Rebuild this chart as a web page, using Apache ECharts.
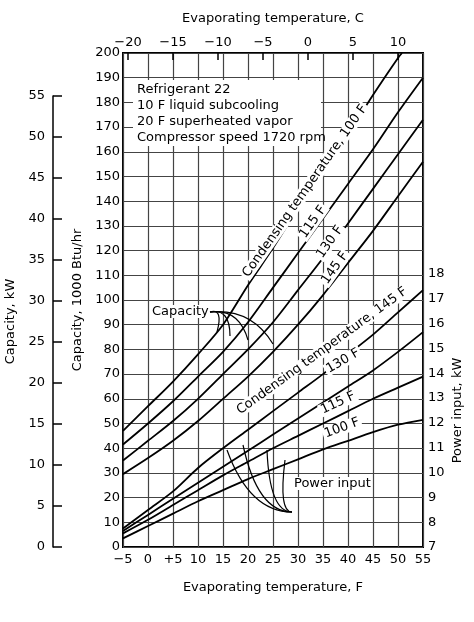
<!DOCTYPE html>
<html><head><meta charset="utf-8">
<script src="https://cdn.jsdelivr.net/npm/echarts@6/dist/echarts.min.js"></script>
<style>html,body{margin:0;padding:0;background:#fff}#c{width:474px;height:622px}</style>
</head><body><div id="c"></div>
<script>
const evapF = [-5,0,5,10,15,20,25,30,35,40,45,50,55];
const cap100 = [47,57,67,78,90,106,121,137,152,167,183,198,null];
const cap100End = [50.8,200];
const cap115 = [41.5,50,59,69,79,91,105,119,133,147,161,176,190];
const cap130 = [35,43,51,60,70,80,91,104,117,131,145,159,173];
const cap145 = [29.5,36,43,51,60,69,79,90,102,115,128,142,156];
// power input expressed on the capacity scale (kW = 7 + value/10)
const pow100 = [3.5,8.5,13.5,18.5,23,27.5,31.5,35.5,39.5,43,46.5,49.5,51.5];
const pow115 = [5.5,11,17,23,29,34.5,40,45,50,55,60,64.5,69];
const pow130 = [6.5,13,19.5,26,32.5,39,45.5,52,58.5,65,71.5,79,87];
const pow145 = [7.5,15,22.5,32,40,47.5,55,62.5,70,78,86,95,104];
const cTicks = [-20,-15,-10,-5,0,5,10];

function pts(v){const r=[];v.forEach((y,i)=>{if(y!=null)r.push([evapF[i],y]);});return r;}
const FONT='DejaVu Sans';
const ser=(d)=>({type:'line',data:d,smooth:0.3,symbol:'none',xAxisIndex:0,yAxisIndex:0,
  lineStyle:{color:'#000',width:1.8},silent:true});
const c100=pts(cap100);c100.push(cap100End);

const chart=echarts.init(document.getElementById('c'));
const lbl={color:'#000',fontFamily:FONT,fontSize:13};
chart.setOption({
  animation:false,
  grid:[
    {left:123,right:51,top:53,bottom:75,show:true,borderColor:'#000',borderWidth:2},
    {left:53,width:1,top:96,bottom:75},
    {right:51,width:1,top:274,bottom:75}
  ],
  xAxis:[
    {gridIndex:0,type:'value',min:-5,max:55,interval:5,
     name:'Evaporating temperature, F',nameLocation:'middle',nameGap:34,nameTextStyle:lbl,
     axisLine:{show:false},axisTick:{show:false},
     axisLabel:Object.assign({},lbl,{margin:6,formatter:v=>v<0?'\u2212'+(-v):(v===5?'+5':String(v))}),
     splitLine:{show:true,lineStyle:{color:'#444',width:1.2}}},
    {gridIndex:0,type:'value',position:'top',min:(-5-32)/1.8,max:(55-32)/1.8,
     name:'Evaporating temperature, C',nameLocation:'middle',nameGap:28,nameTextStyle:lbl,
     axisLine:{show:false},
     axisTick:{show:true,inside:true,length:7,customValues:cTicks,lineStyle:{color:'#000',width:1.5}},
     axisLabel:Object.assign({},lbl,{margin:4,customValues:cTicks,formatter:v=>v<0?'\u2212'+(-v):String(v)}),
     splitLine:{show:false}},
    {gridIndex:1,type:'value',show:false},
    {gridIndex:2,type:'value',show:false}
  ],
  yAxis:[
    {gridIndex:0,type:'value',min:0,max:200,interval:10,
     name:'Capacity, 1000 Btu/hr',nameLocation:'middle',nameGap:36,nameTextStyle:lbl,
     axisLine:{show:false},axisTick:{show:false},
     axisLabel:Object.assign({},lbl,{margin:3}),
     splitLine:{show:true,lineStyle:{color:'#444',width:1.2}}},
    {gridIndex:1,type:'value',min:0,max:55,interval:5,position:'left',
     name:'Capacity, kW',nameLocation:'middle',nameGap:36,nameTextStyle:lbl,
     axisLine:{show:true,lineStyle:{color:'#000',width:1.5}},
     axisTick:{show:true,inside:true,length:9,lineStyle:{color:'#000',width:1.5}},
     axisLabel:Object.assign({},lbl,{margin:8}),splitLine:{show:false}},
    {gridIndex:2,type:'value',min:7,max:18,interval:1,position:'right',
     name:'Power input, kW',nameLocation:'middle',nameGap:28,nameRotate:90,nameTextStyle:lbl,
     axisLine:{show:false},axisTick:{show:false},
     axisLabel:Object.assign({},lbl,{margin:5}),splitLine:{show:false}}
  ],
  series:[ser(c100),ser(pts(cap115)),ser(pts(cap130)),ser(pts(cap145)),
          ser(pts(pow100)),ser(pts(pow115)),ser(pts(pow130)),ser(pts(pow145))],
  graphic:[
    {type:'rect',shape:{x:133,y:80,width:188,height:66},style:{fill:'#fff'},z:50},
    {type:'text',x:137,y:82,z:51,style:{text:'Refrigerant 22\n10 F liquid subcooling\n20 F superheated vapor\nCompressor speed 1720 rpm',
      font:'13px '+FONT,fill:'#000',lineHeight:16}},
    ...[['Condensing temperature, 100 F',305,191,55],['115 F',313,222,55],['130 F',330,242,55],['145 F',335,268,55],
        ['Condensing temperature, 145 F',322,351,36],['130 F',343,361,30],['115 F',338,403,25],['100 F',342,428,20]]
      .map(([t,x,y,a])=>({type:'text',x:x,y:y,rotation:a*Math.PI/180,z:51,
        style:{text:t,font:'13px '+FONT,fill:'#000',align:'center',verticalAlign:'middle',backgroundColor:'#fff',padding:[0,2]}})),
    {type:'text',x:152,y:305,z:51,style:{text:'Capacity',font:'13px '+FONT,fill:'#000',backgroundColor:'#fff'}},
    {type:'text',x:294,y:477,z:51,style:{text:'Power input',font:'13px '+FONT,fill:'#000',backgroundColor:'#fff'}},
    ...[[217,332],[230,336],[248,340],[273,344]].map(([x,y])=>({type:'bezierCurve',z:52,
      shape:{x1:210,y1:312,x2:x,y2:y,cpx1:(210+x)/2+10,cpy1:308},style:{stroke:'#000',lineWidth:1.2,fill:null}})),
    ...[[227,450],[243,445],[267,450],[285,460]].map(([x,y])=>({type:'bezierCurve',z:52,
      shape:{x1:292,y1:512,x2:x,y2:y,cpx1:(292+x)/2-10,cpy1:512},style:{stroke:'#000',lineWidth:1.2,fill:null}}))
  ]
});
</script></body></html>
